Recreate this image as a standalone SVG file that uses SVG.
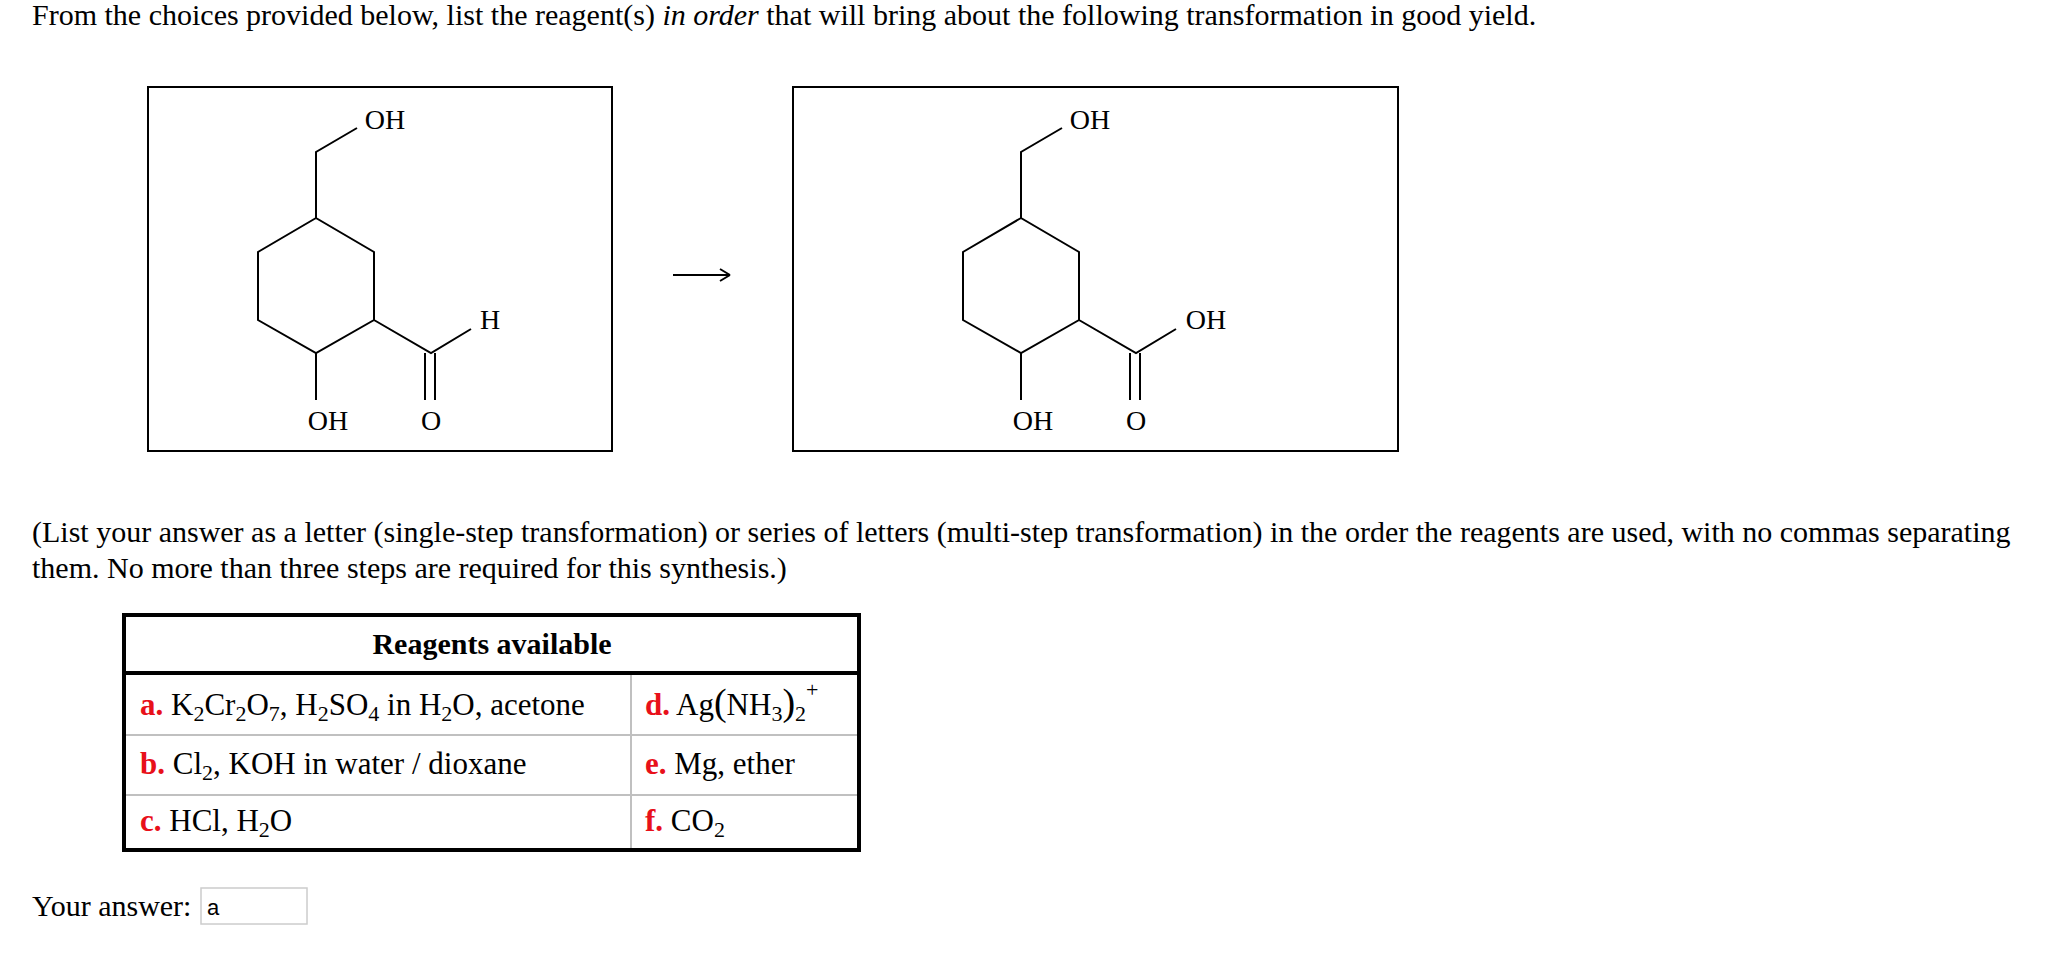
<svg xmlns="http://www.w3.org/2000/svg" width="2062" height="962" viewBox="0 0 2062 962">
<style>
text{font-family:"Liberation Serif","Times New Roman",serif;font-size:30px;fill:#000}
.lab{font-size:28px;text-anchor:middle}
.b{stroke:#000;stroke-width:2;fill:none}
.red{fill:#e8101a}
.bold{font-weight:bold}
.t{font-size:31px}
.sub{font-size:22px}
</style>
<rect width="2062" height="962" fill="#fff"/>
<text x="32" y="25">From the choices provided below, list the reagent(s) <tspan font-style="italic">in order</tspan> that will bring about the following transformation in good yield.</text>
<g id="reactant">
<rect x="148" y="87" width="464" height="364" class="b"/>
<path class="b" d="M357,128 L316,152 L316,218 L374,252 L374,320 L316,353 L258,320 L258,252 L316,218 M316,353 L316,400 M374,320 L431,353 L471,329 M425,353 L425,400 M435,353 L435,400"/>
<text class="lab" x="385" y="129">OH</text>
<text class="lab" x="490" y="329">H</text>
<text class="lab" x="328" y="430">OH</text>
<text class="lab" x="431" y="430">O</text>
</g>
<g id="connectors">
<path class="b" d="M673,275 L729,275 M720,269 L730,275 M720,281 L730,275" stroke-width="1.6"/>
</g>
<g id="product">
<rect x="793" y="87" width="605" height="364" class="b"/>
<path class="b" transform="translate(705,0)" d="M357,128 L316,152 L316,218 L374,252 L374,320 L316,353 L258,320 L258,252 L316,218 M316,353 L316,400 M374,320 L431,353 L471,329 M425,353 L425,400 M435,353 L435,400"/>
<text class="lab" x="1090" y="129">OH</text>
<text class="lab" x="1206" y="329">OH</text>
<text class="lab" x="1033" y="430">OH</text>
<text class="lab" x="1136" y="430">O</text>
</g>
<text x="32" y="542">(List your answer as a letter (single-step transformation) or series of letters (multi-step transformation) in the order the reagents are used, with no commas separating</text>
<text x="32" y="578">them. No more than three steps are required for this synthesis.)</text>
<g id="table">
<path d="M124,735 H859 M124,795 H859 M631,673 V850" stroke="#c0c0c0" stroke-width="2" fill="none"/>
<path d="M124,673 H859" stroke="#000" stroke-width="4"/>
<rect x="124" y="615" width="735" height="235" fill="none" stroke="#000" stroke-width="4"/>
<text class="bold" x="492" y="654" text-anchor="middle">Reagents available</text>
<text class="t" x="140" y="715"><tspan class="red bold">a.</tspan> K<tspan class="sub" dy="6">2</tspan><tspan dy="-6">Cr</tspan><tspan class="sub" dy="6">2</tspan><tspan dy="-6">O</tspan><tspan class="sub" dy="6">7</tspan><tspan dy="-6">, H</tspan><tspan class="sub" dy="6">2</tspan><tspan dy="-6">SO</tspan><tspan class="sub" dy="6">4</tspan><tspan dy="-6"> in H</tspan><tspan class="sub" dy="6">2</tspan><tspan dy="-6">O, acetone</tspan></text>
<text class="t" x="645" y="715"><tspan class="red bold">d.</tspan> Ag<tspan font-size="38">(</tspan>NH<tspan class="sub" dy="6">3</tspan><tspan dy="-6" font-size="38">)</tspan><tspan class="sub" dy="6">2</tspan><tspan class="sub" dy="-24">+</tspan></text>
<text class="t" x="140" y="774"><tspan class="red bold">b.</tspan> Cl<tspan class="sub" dy="6">2</tspan><tspan dy="-6">, KOH in water / dioxane</tspan></text>
<text class="t" x="645" y="774"><tspan class="red bold">e.</tspan> Mg, ether</text>
<text class="t" x="140" y="831"><tspan class="red bold">c.</tspan> HCl, H<tspan class="sub" dy="6">2</tspan><tspan dy="-6">O</tspan></text>
<text class="t" x="645" y="831"><tspan class="red bold">f.</tspan> CO<tspan class="sub" dy="6">2</tspan></text>
</g>
<text x="32" y="916">Your answer:</text>
<rect x="201" y="888" width="106" height="36" fill="#fff" stroke="#ccc" stroke-width="1.5"/>
<text x="207" y="915" style="font-family:'Liberation Sans',Arial,sans-serif;font-size:22px">a</text>
</svg>
